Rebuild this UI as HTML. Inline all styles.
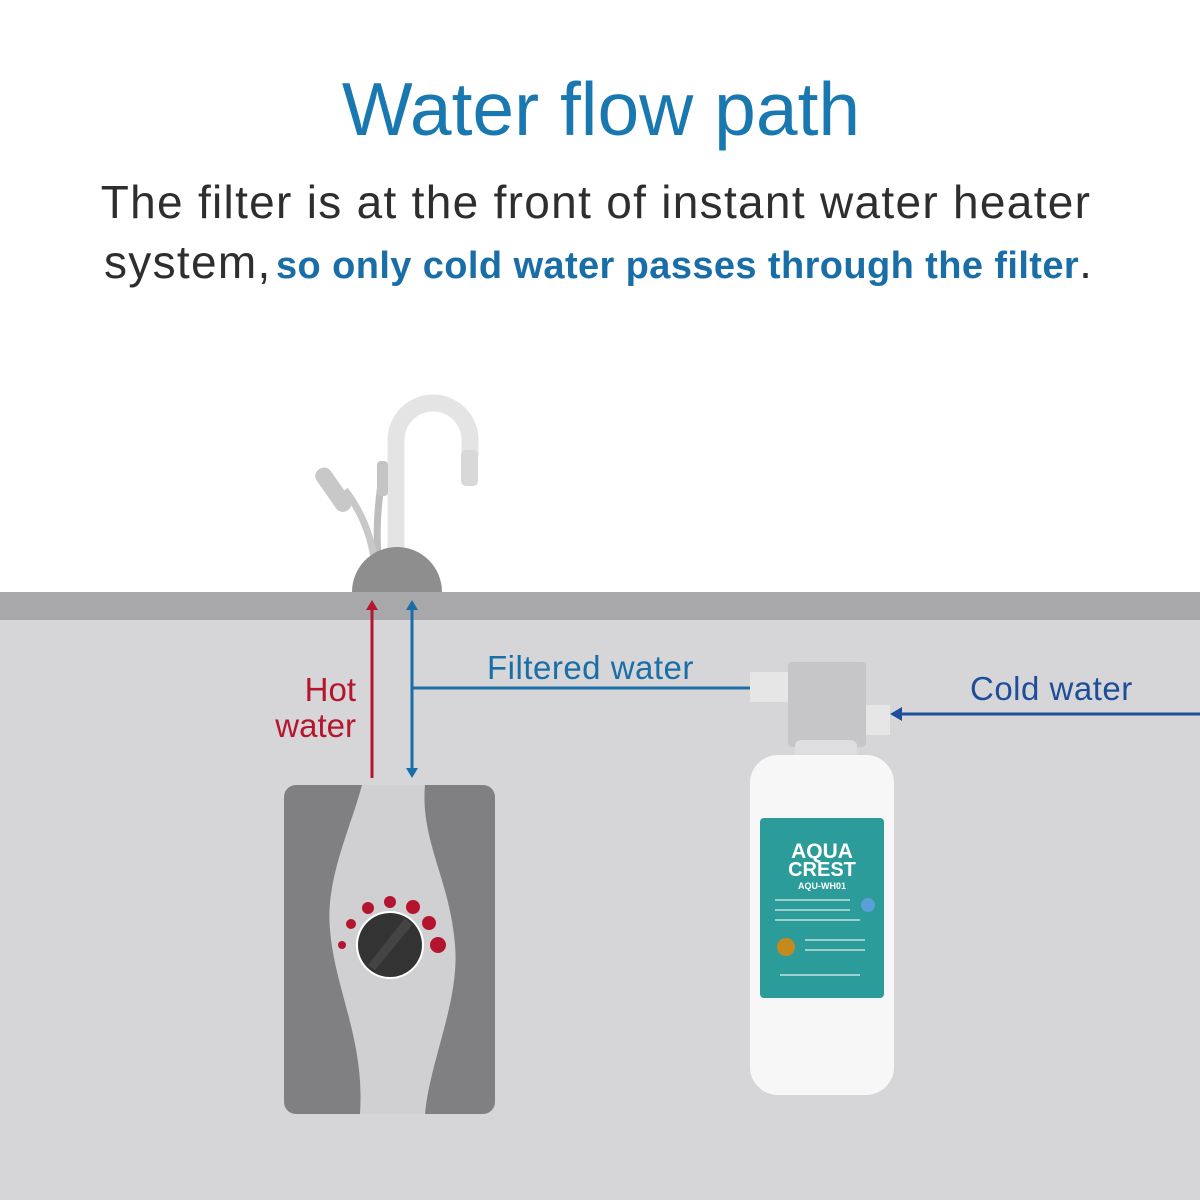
<!DOCTYPE html>
<html><head><meta charset="utf-8"><style>
html,body{margin:0;padding:0;background:#fff}
svg{display:block}
</style></head><body>
<svg width="1200" height="1200" viewBox="0 0 1200 1200" xmlns="http://www.w3.org/2000/svg">
<rect width="1200" height="1200" fill="#fff"/>
<text x="601" y="135" text-anchor="middle" font-family="Liberation Sans, sans-serif" font-size="75" fill="#1a78b0">Water flow path</text>
<text x="596" y="218" text-anchor="middle" font-family="Liberation Sans, sans-serif" font-size="46" letter-spacing="1.3" fill="#2e2e2e">The filter is at the front of instant water heater</text>
<text x="104" y="278" font-family="Liberation Sans, sans-serif" font-size="46" letter-spacing="1.3" fill="#2e2e2e">system, <tspan x="276" font-size="38" font-weight="bold" letter-spacing="0.4" fill="#1a6ea8">so only cold water passes through the filter</tspan>.</text>

<!-- faucet -->
<g fill="none" stroke="#e4e4e4" stroke-linecap="round">
<path d="M396 560 V440 A37 37 0 0 1 470 440 V455" stroke-width="17"/>
</g>
<rect x="461" y="450" width="17" height="36" rx="5" fill="#d8d8d8"/>
<path d="M378 555 Q375 520 383 470" stroke="#bdbdbd" stroke-width="7" fill="none"/>
<rect x="377" y="461" width="11" height="35" rx="4" fill="#c4c4c4"/>
<path d="M374 558 Q368 520 345 490" stroke="#c8c8c8" stroke-width="7" fill="none"/>
<rect x="325" y="465" width="17" height="50" rx="8" fill="#c8c8c8" transform="rotate(-35 333 490)"/>
<path d="M352 592 A44 44 0 0 1 442 592 Z" fill="#8e8e8e"/>

<!-- counter -->
<rect x="0" y="592" width="1200" height="28" fill="#a8a8aa"/>
<rect x="0" y="620" width="1200" height="580" fill="#d6d6d8"/>

<!-- arrows -->
<line x1="372" y1="778" x2="372" y2="606" stroke="#b5162e" stroke-width="3"/>
<path d="M366 610 L372 600 L378 610 Z" fill="#b5162e"/>
<line x1="412" y1="606" x2="412" y2="772" stroke="#1a6ea8" stroke-width="3"/>
<path d="M406 610 L412 600 L418 610 Z" fill="#1a6ea8"/>
<path d="M406 768 L412 778 L418 768 Z" fill="#1a6ea8"/>
<line x1="412" y1="688" x2="752" y2="688" stroke="#1a6ea8" stroke-width="3"/>
<line x1="1200" y1="714" x2="898" y2="714" stroke="#1e4d9a" stroke-width="3"/>
<path d="M902 707 L890 714 L902 721 Z" fill="#1e4d9a"/>

<g font-family="Liberation Sans, sans-serif" font-size="33">
<text x="356" y="701" text-anchor="end" fill="#b5162e">Hot</text>
<text x="356" y="737" text-anchor="end" fill="#b5162e">water</text>
<text x="487" y="679" fill="#1a6ea8" letter-spacing="0.5">Filtered water</text>
<text x="970" y="700" fill="#1e4d9a" letter-spacing="0.5">Cold water</text>
</g>

<!-- heater -->
<rect x="284" y="785" width="211" height="329" rx="12" fill="#808083"/>
<path d="M362 785 C350 830 325 880 330 930 C335 990 365 1040 360 1114 L425 1114 C430 1060 460 1000 455 945 C450 880 420 840 425 785 Z" fill="#d0d0d2"/>
<circle cx="390" cy="945" r="34" fill="#fff"/>
<circle cx="390" cy="945" r="32" fill="#333"/>
<path d="M368 965 L405 918 L412 925 L375 970 Z" fill="#444"/>
<g fill="#b5142e">
<circle cx="342" cy="945" r="4"/><circle cx="351" cy="924" r="5"/><circle cx="368" cy="908" r="6"/>
<circle cx="390" cy="902" r="6"/><circle cx="413" cy="907" r="7"/><circle cx="429" cy="923" r="7"/><circle cx="438" cy="945" r="8"/>
</g>

<!-- filter -->
<rect x="750" y="672" width="42" height="30" fill="#e6e6e6"/>
<rect x="855" y="705" width="35" height="30" fill="#e6e6e6"/>
<rect x="788" y="662" width="78" height="85" rx="4" fill="#c6c6c8"/>
<rect x="795" y="740" width="62" height="18" rx="6" fill="#dedee0"/>
<rect x="750" y="755" width="144" height="340" rx="28" fill="#f7f7f7"/>
<rect x="760" y="818" width="124" height="180" rx="4" fill="#2c9c9a"/>
<text x="822" y="858" text-anchor="middle" font-family="Liberation Sans, sans-serif" font-size="21" font-weight="bold" fill="#fff">AQUA</text>
<text x="822" y="876" text-anchor="middle" font-family="Liberation Sans, sans-serif" font-size="20" font-weight="bold" fill="#fff">CREST</text>
<text x="822" y="889" text-anchor="middle" font-family="Liberation Sans, sans-serif" font-size="9" font-weight="bold" fill="#fff">AQU-WH01</text>
<circle cx="786" cy="947" r="9" fill="#c58a1e"/>
<circle cx="868" cy="905" r="7" fill="#5a9fd8"/>
<g stroke="#bfe2e0" stroke-width="1.5">
<line x1="775" y1="900" x2="850" y2="900"/><line x1="775" y1="910" x2="850" y2="910"/><line x1="775" y1="920" x2="860" y2="920"/>
<line x1="805" y1="940" x2="865" y2="940"/><line x1="805" y1="950" x2="865" y2="950"/><line x1="780" y1="975" x2="860" y2="975"/>
</g>
</svg>
</body></html>
